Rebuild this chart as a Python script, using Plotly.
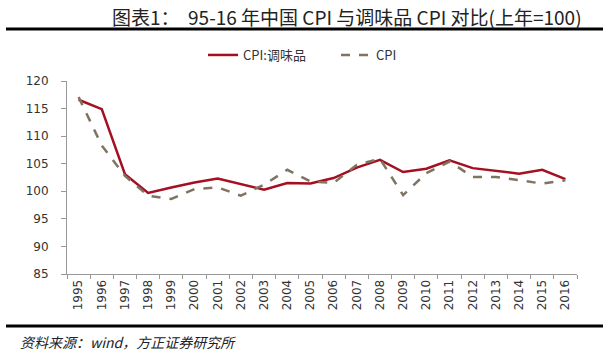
import plotly.graph_objects as go

years = [str(y) for y in range(1995, 2017)]
cpi_seasoning = [116.6, 114.9, 103.1, 99.7, 100.7, 101.6, 102.3, 101.3, 100.3, 101.5, 101.4,
                 102.4, 104.3, 105.7, 103.5, 104.1, 105.6, 104.2, 103.7, 103.2, 103.9, 102.2]
cpi = [117.1, 108.3, 102.8, 99.2, 98.6, 100.4, 100.7, 99.2, 101.2, 103.9, 101.8,
       101.5, 104.8, 105.9, 99.3, 103.3, 105.4, 102.6, 102.6, 102.0, 101.4, 102.0]
y_ticks = [85, 90, 95, 100, 105, 110, 115, 120]

W, H = 605, 356
L, R, T, B = 67, 28, 81, 82

fig = go.Figure()
fig.add_trace(go.Scatter(x=years, y=cpi_seasoning, mode="lines", name="CPI:调味品",
                         line=dict(color="#A50F22", width=2.5)))
fig.add_trace(go.Scatter(x=years, y=cpi, mode="lines", name="CPI",
                         line=dict(color="#7F7462", width=2.5, dash="dash")))

fig.update_layout(
    width=W, height=H,
    margin=dict(l=L, r=R, t=T, b=B, autoexpand=False),
    paper_bgcolor="white", plot_bgcolor="white",
    font=dict(family="Noto Sans CJK SC, DejaVu Sans", size=11, color="#333"),
    showlegend=True,
    legend=dict(orientation="h", xref="container", yref="container",
                x=203 / W, xanchor="left", y=1 - 55 / H, yanchor="middle",
                font=dict(size=13, color="#333"), tracegroupgap=0,
                entrywidth=88, entrywidthmode="pixels"),
    xaxis=dict(type="category", tickson="boundaries", ticks="outside", ticklen=4,
               tickcolor="#999", showline=True, linecolor="#999", linewidth=1,
               tickangle=-90, showgrid=False, automargin=False,
               tickfont=dict(family="DejaVu Sans", size=12, color="#333"),
               range=[-0.5, len(years) - 0.5]),
    yaxis=dict(range=[85, 120], tickvals=y_ticks, ticks="outside", ticklen=5,
               tickcolor="#999", showline=True, linecolor="#999", linewidth=1,
               showgrid=False, zeroline=False, automargin=False, ticklabelstandoff=10,
               tickfont=dict(family="DejaVu Sans", size=12, color="#333")),
)

fig.add_annotation(text="图表1：  95-16 年中国 CPI 与调味品 CPI 对比(上年=100)",
                   xref="paper", yref="paper",
                   x=(347 - L) / (W - L - R), y=1 + (T - 17) / (H - T - B),
                   xanchor="center", yanchor="middle",
                   showarrow=False, font=dict(family="Noto Sans CJK SC", size=19, color="#222"))
fig.add_shape(type="line", xref="paper", yref="paper", x0=(6 - L) / (W - L - R), x1=(603 - L) / (W - L - R),
              y0=1 + (T - 29) / (H - T - B), y1=1 + (T - 29) / (H - T - B), line=dict(color="black", width=3))
fig.add_shape(type="line", xref="paper", yref="paper", x0=(6 - L) / (W - L - R), x1=(603 - L) / (W - L - R),
              y0=-(326 - (H - B)) / (H - T - B), y1=-(326 - (H - B)) / (H - T - B),
              line=dict(color="black", width=3))
fig.add_annotation(text="<i>资料来源：wind，方正证券研究所</i>", xref="paper", yref="paper",
                   x=(18 - L) / (W - L - R), y=-(342 - (H - B)) / (H - T - B),
                   xanchor="left", yanchor="middle",
                   showarrow=False, font=dict(family="Noto Sans CJK SC", size=14, color="#222"))

fig.write_html("out.html", config={"displayModeBar": False},
               post_script="document.body.style.margin='0';document.body.style.overflow='hidden';")
